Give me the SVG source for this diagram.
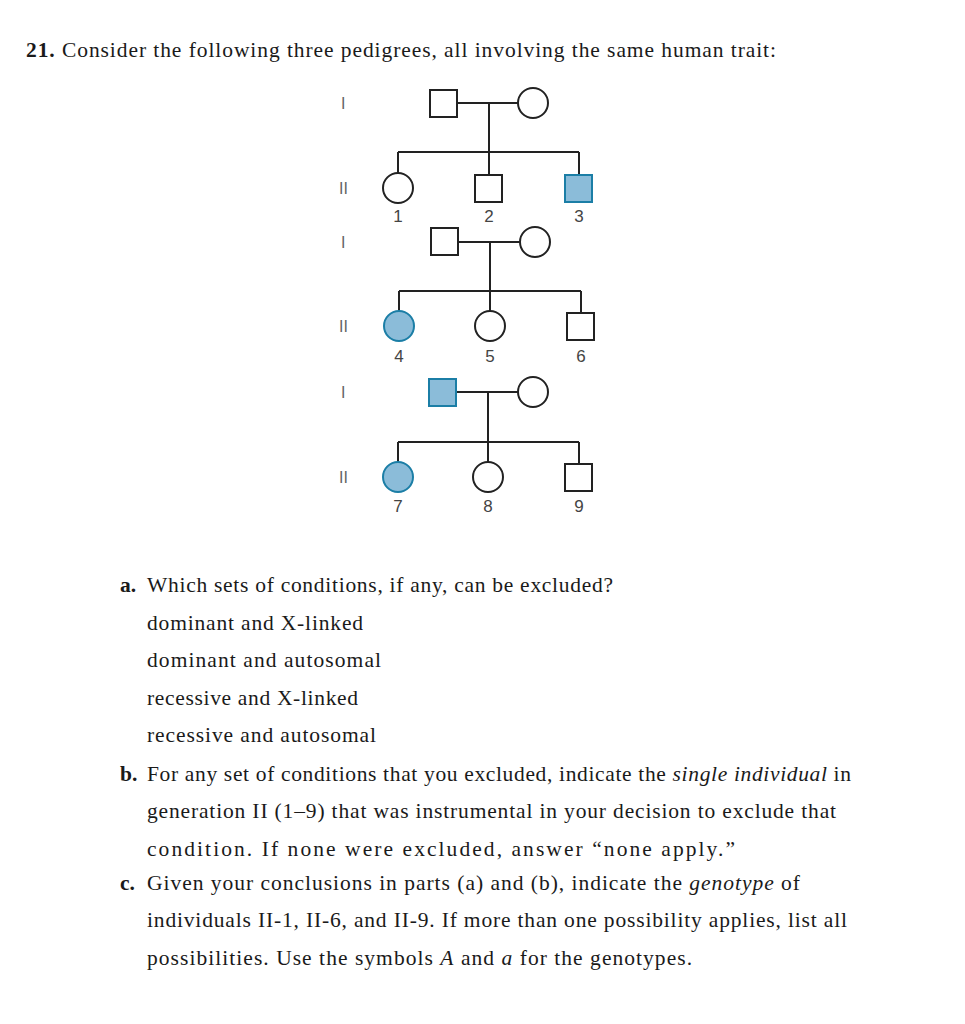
<svg xmlns="http://www.w3.org/2000/svg" width="965" height="1024" viewBox="0 0 965 1024">
<style>
.t{font-family:"Liberation Serif","Times New Roman",serif;font-size:21.5px;fill:#1a1a1a}
.b{font-weight:bold}
.i{font-style:italic}
.gen{font-family:"Liberation Sans",Arial,sans-serif;font-size:16px;fill:#666}
.num{font-family:"Liberation Sans",Arial,sans-serif;font-size:17px;fill:#444;text-anchor:middle}
.ln{stroke:#222;stroke-width:2;fill:none}
.u{fill:#fff;stroke:#222;stroke-width:2}
.a{fill:#8bbcd9;stroke:#1b7ea6;stroke-width:2}
</style>
<rect width="965" height="1024" fill="#fff"/>
<text class="t" x="26" y="57" textLength="750"><tspan class="b">21.</tspan> Consider the following three pedigrees, all involving the same human trait:</text>

<g id="connectors">
<path class="ln" d="M457 103H518M489 103V152M398 152H579M398 152V173M489 152V175M579 152V175"/>
<path class="ln" d="M458 242H520M490 242V291M399 291H581M399 291V311M490 291V311M581 291V313"/>
<path class="ln" d="M456 392H518M488 392V442M398 442H579M398 442V462M488 442V462M579 442V464"/>
</g>

<g id="gen-labels">
<text class="gen" x="341" y="109">I</text>
<text class="gen" x="339" y="194">II</text>
<text class="gen" x="341" y="248">I</text>
<text class="gen" x="339" y="332">II</text>
<text class="gen" x="341" y="398">I</text>
<text class="gen" x="339" y="483">II</text>
</g>

<g id="p1-I-father"><rect class="u" x="430" y="90" width="27" height="27"/></g>
<g id="p1-I-mother"><circle class="u" cx="533" cy="103" r="15"/></g>
<g id="ind-1"><circle class="u" cx="398" cy="188" r="15"/><text class="num" x="398" y="222">1</text></g>
<g id="ind-2"><rect class="u" x="475" y="175" width="27" height="27"/><text class="num" x="489" y="222">2</text></g>
<g id="ind-3"><rect class="a" x="565" y="175" width="27" height="27"/><text class="num" x="579" y="222">3</text></g>

<g id="p2-I-father"><rect class="u" x="431" y="228" width="27" height="27"/></g>
<g id="p2-I-mother"><circle class="u" cx="535" cy="242" r="15"/></g>
<g id="ind-4"><circle class="a" cx="399" cy="326" r="15"/><text class="num" x="399" y="362">4</text></g>
<g id="ind-5"><circle class="u" cx="490" cy="326" r="15"/><text class="num" x="490" y="362">5</text></g>
<g id="ind-6"><rect class="u" x="567" y="313" width="27" height="27"/><text class="num" x="581" y="362">6</text></g>

<g id="p3-I-father"><rect class="a" x="429" y="379" width="27" height="27"/></g>
<g id="p3-I-mother"><circle class="u" cx="533" cy="392" r="15"/></g>
<g id="ind-7"><circle class="a" cx="398" cy="477" r="15"/><text class="num" x="398" y="512">7</text></g>
<g id="ind-8"><circle class="u" cx="488" cy="477" r="15"/><text class="num" x="488" y="512">8</text></g>
<g id="ind-9"><rect class="u" x="565" y="464" width="27" height="27"/><text class="num" x="579" y="512">9</text></g>

<g id="questions">
<text class="t b" x="120" y="592">a.</text>
<text class="t" x="147" y="592" textLength="466">Which sets of conditions, if any, can be excluded?</text>
<text class="t" x="147" y="630" textLength="216">dominant and X-linked</text>
<text class="t" x="147" y="667" textLength="234">dominant and autosomal</text>
<text class="t" x="147" y="705" textLength="211">recessive and X-linked</text>
<text class="t" x="147" y="742" textLength="229">recessive and autosomal</text>
<text class="t b" x="120" y="781">b.</text>
<text class="t" x="147" y="781" textLength="704">For any set of conditions that you excluded, indicate the <tspan class="i">single individual</tspan> in</text>
<text class="t" x="147" y="818" textLength="689">generation II (1–9) that was instrumental in your decision to exclude that</text>
<text class="t" x="147" y="856" textLength="588">condition. If none were excluded, answer “none apply.”</text>
<text class="t b" x="120" y="890">c.</text>
<text class="t" x="147" y="890" textLength="653">Given your conclusions in parts (a) and (b), indicate the <tspan class="i">genotype</tspan> of</text>
<text class="t" x="147" y="927" textLength="700">individuals II-1, II-6, and II-9. If more than one possibility applies, list all</text>
<text class="t" x="147" y="965" textLength="545">possibilities. Use the symbols <tspan class="i">A</tspan> and <tspan class="i">a</tspan> for the genotypes.</text>
</g>
</svg>
